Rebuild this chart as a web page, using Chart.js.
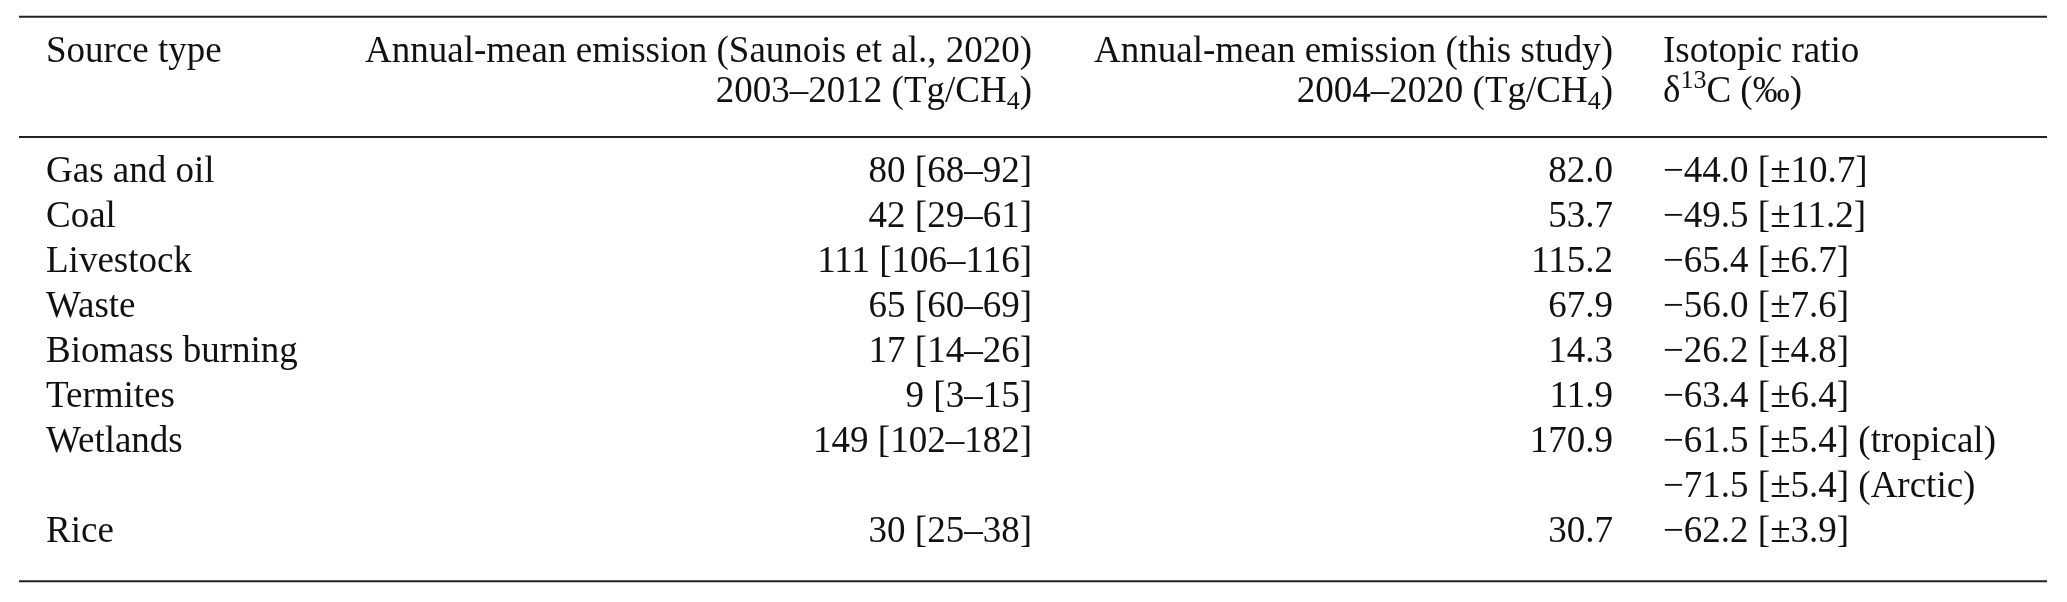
<!DOCTYPE html>
<html>
<head>
<meta charset="utf-8">
<script src="https://cdn.jsdelivr.net/npm/chart.js@4"></script>
<style>
  html, body { margin: 0; padding: 0; background: #fff; }
  #wrap { width: 2067px; height: 602px; }
</style>
</head>
<body>
<div id="wrap"><canvas id="myChart"></canvas></div>
<script>
const sources = ['Gas and oil', 'Coal', 'Livestock', 'Waste', 'Biomass burning', 'Termites', 'Wetlands', '', 'Rice'];
const saunoisEmission = ['80 [68\u201392]', '42 [29\u201361]', '111 [106\u2013116]', '65 [60\u201369]', '17 [14\u201326]', '9 [3\u201315]', '149 [102\u2013182]', '', '30 [25\u201338]'];
const thisStudyEmission = ['82.0', '53.7', '115.2', '67.9', '14.3', '11.9', '170.9', '', '30.7'];
const isotopicRatio = ['\u221244.0 [\u00b110.7]', '\u221249.5 [\u00b111.2]', '\u221265.4 [\u00b16.7]', '\u221256.0 [\u00b17.6]',
  '\u221226.2 [\u00b14.8]', '\u221263.4 [\u00b16.4]', '\u221261.5 [\u00b15.4] (tropical)', '\u221271.5 [\u00b15.4] (Arctic)', '\u221262.2 [\u00b13.9]'];

// column anchors (x pixels) and rule rows (in row units)
const colX = [46, 1032, 1613, 1663];
const FONT = '37px "Liberation Serif", "Times New Roman", serif';
const SMALL = '26px "Liberation Serif", "Times New Roman", serif';

const rowIdx = sources.map((s, i) => i);

const tablePlugin = {
  id: 'table',
  afterDraw(chart) {
    const c = chart.ctx, x = chart.scales.x, y = chart.scales.y;
    c.save();
    c.fillStyle = '#111';
    c.strokeStyle = '#222';
    c.lineWidth = 2;
    [-3.67, -1, 8.87].forEach(r => {
      const py = y.getPixelForValue(r);
      c.beginPath(); c.moveTo(x.getPixelForValue(19), py); c.lineTo(x.getPixelForValue(2047), py); c.stroke();
    });
    c.textBaseline = 'alphabetic';
    c.font = FONT;
    const h1 = y.getPixelForValue(-2.67), h2 = y.getPixelForValue(-1.78);
    c.textAlign = 'left';
    c.fillText('Source type', colX[0], h1);
    c.textAlign = 'right';
    c.fillText('Annual-mean emission (Saunois et al., 2020)', colX[1], h1);
    c.fillText('Annual-mean emission (this study)', colX[2], h1);
    // second header line with CH4 subscript
    [[colX[1], '2003\u20132012 (Tg/CH'], [colX[2], '2004\u20132020 (Tg/CH']].forEach(([rx, t]) => {
      c.font = FONT; const wp = c.measureText(')').width;
      c.font = SMALL; const w4 = c.measureText('4').width;
      c.fillText('4', rx - wp, h2 + 7);
      c.font = FONT;
      c.fillText(')', rx, h2);
      c.fillText(t, rx - wp - w4, h2);
    });
    c.textAlign = 'left';
    c.fillText('Isotopic ratio', colX[3], h1);
    let px = colX[3];
    c.fillText('\u03b4', px, h2); px += c.measureText('\u03b4').width;
    c.font = SMALL; c.fillText('13', px, h2 - 14); px += c.measureText('13').width;
    c.font = FONT; c.fillText('C (\u2030)', px, h2);

    rowIdx.forEach(i => {
      const py = y.getPixelForValue(i);
      c.textAlign = 'left'; c.fillText(sources[i], colX[0], py);
      c.textAlign = 'right'; c.fillText(saunoisEmission[i], colX[1], py);
      c.fillText(thisStudyEmission[i], colX[2], py);
      c.textAlign = 'left'; c.fillText(isotopicRatio[i], colX[3], py);
    });
    c.restore();
  }
};

new Chart(document.getElementById('myChart'), {
  type: 'scatter',
  data: {
    datasets: [{
      label: 'rows',
      data: rowIdx.map(i => ({ x: colX[0], y: i })),
      pointRadius: 0
    }]
  },
  options: {
    responsive: true,
    maintainAspectRatio: false,
    animation: false,
    layout: { padding: 0 },
    plugins: { legend: { display: false }, tooltip: { enabled: false } },
    scales: {
      x: { type: 'linear', min: 0, max: 2067, display: false },
      y: { type: 'linear', min: -4.044, max: 9.333, reverse: true, display: false }
    }
  },
  plugins: [tablePlugin]
});
</script>
</body>
</html>
